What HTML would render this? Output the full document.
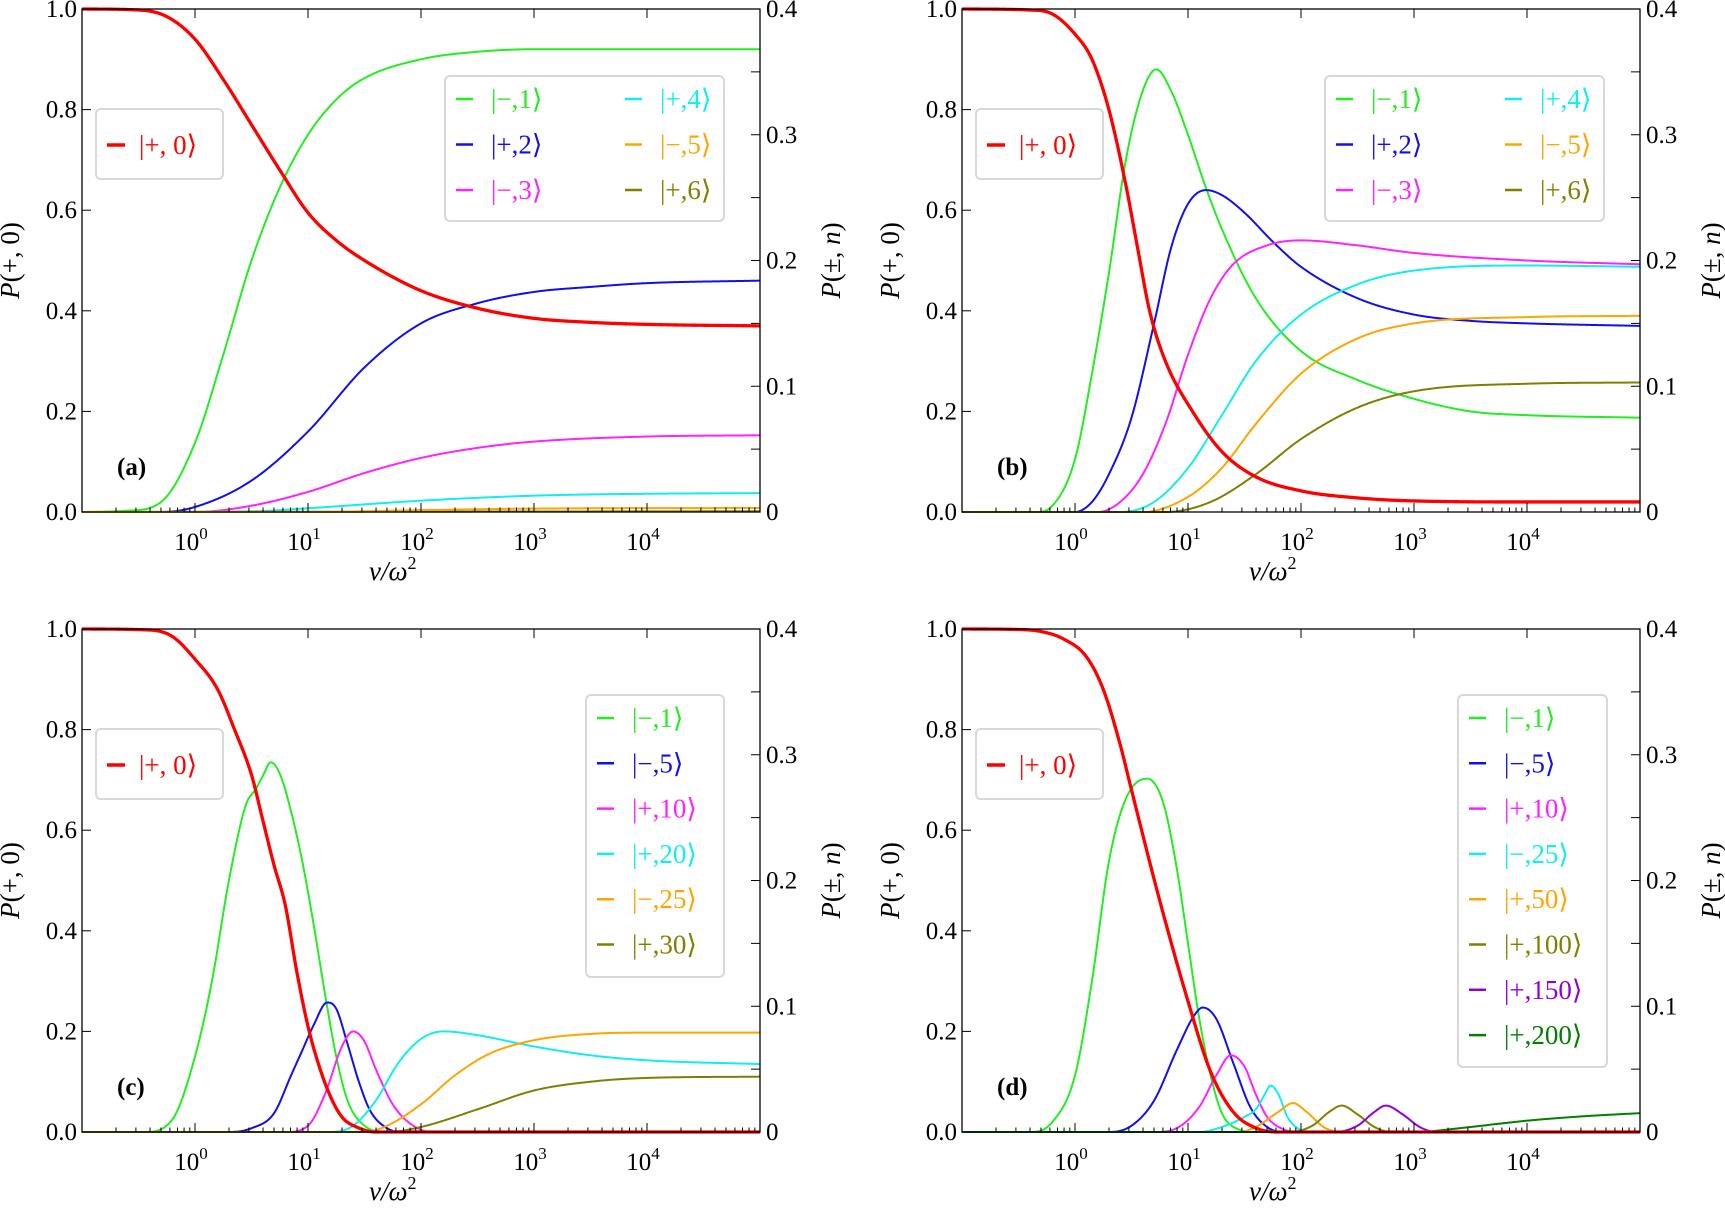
<!DOCTYPE html>
<html><head><meta charset="utf-8">
<style>
html,body{margin:0;padding:0;background:#fff;}
svg{display:block;}
text{font-family:"Liberation Serif","DejaVu Serif",serif;}
</style></head>
<body>
<svg id="s" width="1725" height="1208" xmlns="http://www.w3.org/2000/svg"></svg>
<script>
const S=document.getElementById('s');
let out='';
function mono(pts){
  const n=pts.length,xs=pts.map(p=>p[0]),ys=pts.map(p=>p[1]);
  const d=[],m=new Array(n).fill(0);
  for(let i=0;i<n-1;i++)d.push((ys[i+1]-ys[i])/(xs[i+1]-xs[i]));
  m[0]=d[0];m[n-1]=d[n-2];
  for(let i=1;i<n-1;i++){ if(d[i-1]*d[i]<=0)m[i]=0; else m[i]=(d[i-1]+d[i])/2;}
  for(let i=0;i<n-1;i++){ if(d[i]===0){m[i]=0;m[i+1]=0;continue;}
    const a=m[i]/d[i],b=m[i+1]/d[i],t=a*a+b*b; if(t>9){const k=3/Math.sqrt(t);m[i]=k*a*d[i];m[i+1]=k*b*d[i];}}
  return function(x){
    if(x<=xs[0])return ys[0]; if(x>=xs[n-1])return ys[n-1];
    let i=0;while(x>xs[i+1])i++;
    const h=xs[i+1]-xs[i],t=(x-xs[i])/h,t2=t*t,t3=t2*t;
    return (2*t3-3*t2+1)*ys[i]+(t3-2*t2+t)*h*m[i]+(-2*t3+3*t2)*ys[i+1]+(t3-t2)*h*m[i+1];
  };
}
const C={g:'#22ee22',b:'#1010ee',m:'#ff22ff',c:'#11eeee',o:'#ffa500',ol:'#808000',p:'#9400d3',dg:'#007f00',r:'#ff0000'};
function panel(L,T,R,B,lab,red,curves,leg,legBox,cols){
  const W=R-L,H=B-T;
  const X=u=>L+(u+1)/6*W, Y=v=>B-v*H;
  function draw(pts,col,sw,scale){
    const f=mono(pts);let d='';
    for(let k=0;k<=600;k++){const u=-1+6*k/600;let v=Math.max(0,f(u))*scale;d+=(k?'L':'M')+X(u).toFixed(2)+' '+Y(v).toFixed(2);}
    out+=`<path d="${d}" fill="none" stroke="${col}" stroke-width="${sw}" stroke-linejoin="round"/>`;
  }
  for(const c of curves)draw(c[1],C[c[0]],2,2.5);
  draw(red,C.r,3.3,1);
  out+=`<rect x="${L}" y="${T}" width="${W}" height="${H}" fill="none" stroke="#000" stroke-width="1.3"/>`;
  for(let e=-1;e<5;e++){
    for(let k=1;k<10;k++){const u=e+Math.log10(k);if(u<=-1||u>=5)continue;const x=X(u);
      const len=k==1?9:4.5;
      out+=`<line x1="${x}" y1="${B}" x2="${x}" y2="${B-len}" stroke="#000" stroke-width="1"/>`;
      if(k==1)out+=`<line x1="${x}" y1="${T}" x2="${x}" y2="${T+9}" stroke="#000" stroke-width="1"/>`;
    }
  }
  for(let e=0;e<5;e++){const x=X(e);
    out+=`<text x="${x-4}" y="${B+38}" font-size="25" text-anchor="middle">10<tspan font-size="17" dy="-11">${e}</tspan></text>`;}
  for(let i=0;i<=5;i++){const v=i*0.2,y=Y(v);
    out+=`<line x1="${L}" y1="${y}" x2="${L+9}" y2="${y}" stroke="#000"/>`;
    out+=`<text x="${L-5}" y="${y+8}" font-size="25" text-anchor="end">${v.toFixed(1)}</text>`;}
  for(let i=0;i<=8;i++){const y=Y(i/8);
    out+=`<line x1="${R}" y1="${y}" x2="${R-9}" y2="${y}" stroke="#000"/>`;
    if(i%2==0){const t=i==0?'0':(i/20).toFixed(1);
      out+=`<text x="${R+6}" y="${y+8}" font-size="25">${t}</text>`;}}
  const cy=(T+B)/2;
  out+=`<text transform="translate(${L-63},${cy}) rotate(-90)" font-size="27" text-anchor="middle"><tspan font-style="italic">P</tspan>(+, 0)</text>`;
  out+=`<text transform="translate(${R+80},${cy}) rotate(-90)" font-size="27" text-anchor="middle"><tspan font-style="italic">P</tspan>(±, <tspan font-style="italic">n</tspan>)</text>`;
  out+=`<text x="${X(1.75)}" y="${B+68}" font-size="27" text-anchor="middle" font-style="italic">v/ω<tspan font-size="18" dy="-11" font-style="normal">2</tspan></text>`;
  out+=`<text x="${L+35}" y="${B-37}" font-size="25" font-weight="bold">${lab}</text>`;
  out+=`<rect x="${L+14}" y="${T+100}" width="127" height="70" rx="5" fill="#fff" fill-opacity="0.85" stroke="#d8d8d8" stroke-width="2"/>`;
  out+=`<line x1="${L+25}" y1="${T+136}" x2="${L+43}" y2="${T+136}" stroke="${C.r}" stroke-width="3.5"/>`;
  out+=`<text x="${L+57}" y="${T+145}" font-size="27" fill="${C.r}">|+, 0⟩</text>`;
  const [bx,by,bw,bh]=legBox;
  out+=`<rect x="${bx}" y="${by}" width="${bw}" height="${bh}" rx="5" fill="#fff" fill-opacity="0.85" stroke="#d8d8d8" stroke-width="2"/>`;
  leg.forEach((e,i)=>{const col=cols?Math.floor(i/3):0,row=cols?i%3:i;
    const hx=bx+11+col*169, yy=by+23+row*(cols?45.5:45.3);
    out+=`<line x1="${hx}" y1="${yy}" x2="${hx+17}" y2="${yy}" stroke="${C[e[0]]}" stroke-width="2.5"/>`;
    out+=`<text x="${hx+35}" y="${yy+9}" font-size="27" fill="${C[e[0]]}">${e[1]}</text>`;});
}
panel(82,9,760,512,'(a)',
 [[-1,1],[-0.5,0.998],[-0.25,0.985],[0,0.94],[0.25,0.86],[0.5,0.77],[0.75,0.68],[1,0.595],[1.25,0.54],[1.5,0.5],[2,0.44],[2.5,0.405],[3,0.385],[3.5,0.377],[4,0.373],[5,0.37]],
 [['g',[[-1,0],[-0.6,0.001],[-0.3,0.008],[0,0.055],[0.25,0.125],[0.5,0.2],[0.75,0.258],[1,0.3],[1.25,0.328],[1.5,0.345],[2,0.36],[2.5,0.366],[3,0.368],[5,0.368]]],
  ['b',[[-1,0],[-0.3,0],[0,0.004],[0.5,0.025],[1,0.064],[1.5,0.115],[2,0.15],[2.5,0.166],[3,0.175],[3.5,0.179],[4,0.182],[5,0.184]]],
  ['m',[[-1,0],[0,0],[0.5,0.005],[1,0.016],[1.5,0.031],[2,0.043],[2.5,0.051],[3,0.056],[4,0.06],[5,0.061]]],
  ['c',[[-1,0],[0.5,0.0005],[1,0.003],[2,0.009],[3,0.013],[4,0.0145],[5,0.015]]],
  ['ol',[[-1,0],[2,0.0003],[5,0.0006]]],
  ['o',[[-1,0],[1,0],[2,0.0015],[3,0.0027],[5,0.0032]]]],
 [['g','|−,1⟩'],['b','|+,2⟩'],['m','|−,3⟩'],['c','|+,4⟩'],['o','|−,5⟩'],['ol','|+,6⟩']],[445,76,279,145],true);
panel(962,9,1640,512,'(b)',
 [[-1,1],[-0.4,0.998],[-0.2,0.99],[0,0.95],[0.15,0.9],[0.3,0.8],[0.45,0.65],[0.55,0.53],[0.66,0.4],[0.8,0.3],[1.04,0.2],[1.3,0.12],[1.6,0.07],[2,0.042],[2.5,0.028],[3,0.022],[4,0.02],[5,0.02]],
 [['g',[[-1,0],[-0.35,0],[-0.2,0.005],[0,0.042],[0.15,0.11],[0.3,0.19],[0.45,0.28],[0.6,0.335],[0.72,0.352],[0.85,0.335],[1,0.3],[1.15,0.26],[1.3,0.225],[1.6,0.17],[2,0.128],[2.5,0.105],[3,0.09],[3.5,0.08],[4,0.077],[5,0.075]]],
  ['b',[[-1,0],[0,0],[0.15,0.008],[0.3,0.03],[0.5,0.075],[0.7,0.15],[0.85,0.21],[1,0.245],[1.16,0.256],[1.3,0.252],[1.5,0.238],[1.75,0.215],[2,0.195],[2.5,0.17],[3,0.157],[3.5,0.152],[4,0.15],[5,0.148]]],
  ['m',[[-1,0],[0.2,0],[0.4,0.008],[0.6,0.03],[0.8,0.07],[1,0.125],[1.2,0.17],[1.4,0.197],[1.7,0.212],[2,0.216],[2.5,0.212],[3,0.206],[4,0.2],[5,0.197]]],
  ['c',[[-1,0],[0.4,0],[0.7,0.008],[1,0.035],[1.3,0.077],[1.6,0.12],[2,0.157],[2.5,0.181],[3,0.192],[4,0.196],[5,0.195]]],
  ['o',[[-1,0],[0.6,0],[1,0.012],[1.3,0.035],[1.6,0.07],[2,0.11],[2.5,0.138],[3,0.15],[4,0.155],[5,0.156]]],
  ['ol',[[-1,0],[0.8,0],[1.2,0.008],[1.6,0.03],[2,0.058],[2.5,0.083],[3,0.096],[4,0.102],[5,0.103]]]],
 [['g','|−,1⟩'],['b','|+,2⟩'],['m','|−,3⟩'],['c','|+,4⟩'],['o','|−,5⟩'],['ol','|+,6⟩']],[1325,76,279,145],true);
panel(82,629,760,1132,'(c)',
 [[-1,1],[-0.4,0.998],[-0.2,0.985],[0,0.94],[0.2,0.88],[0.35,0.8],[0.5,0.71],[0.6,0.62],[0.7,0.53],[0.8,0.45],[0.9,0.32],[1,0.21],[1.1,0.13],[1.2,0.07],[1.3,0.03],[1.45,0.008],[1.6,0],[5,0]],
 [['g',[[-1,0],[-0.45,0],[-0.2,0.01],[0,0.06],[0.15,0.12],[0.3,0.2],[0.45,0.26],[0.54,0.273],[0.6,0.283],[0.67,0.294],[0.75,0.285],[0.85,0.255],[0.95,0.215],[1.05,0.165],[1.15,0.11],[1.25,0.06],[1.35,0.025],[1.5,0.005],[1.7,0],[5,0]]],
  ['b',[[-1,0],[0.3,0],[0.5,0.003],[0.7,0.015],[0.85,0.045],[0.95,0.065],[1.05,0.085],[1.17,0.103],[1.25,0.098],[1.35,0.07],[1.45,0.04],[1.55,0.017],[1.7,0.003],[1.85,0],[5,0]]],
  ['m',[[-1,0],[0.8,0],[1,0.005],[1.15,0.03],[1.3,0.068],[1.4,0.08],[1.5,0.072],[1.6,0.05],[1.75,0.022],[1.9,0.007],[2.1,0],[5,0]]],
  ['c',[[-1,0],[1.2,0],[1.4,0.005],[1.6,0.025],[1.8,0.055],[2,0.074],[2.2,0.08],[2.5,0.077],[3,0.068],[3.5,0.061],[4,0.057],[5,0.054]]],
  ['o',[[-1,0],[1.5,0],[1.7,0.005],[2,0.022],[2.3,0.045],[2.6,0.062],[3,0.073],[3.5,0.078],[4,0.079],[5,0.079]]],
  ['ol',[[-1,0],[1.7,0],[2,0.004],[2.5,0.018],[3,0.033],[3.5,0.04],[4,0.043],[5,0.044]]]],
 [['g','|−,1⟩'],['b','|−,5⟩'],['m','|+,10⟩'],['c','|+,20⟩'],['o','|−,25⟩'],['ol','|+,30⟩']],[586,695,138,282],false);
panel(962,629,1640,1132,'(d)',
 [[-1,1],[-0.5,0.999],[-0.3,0.995],[-0.1,0.98],[0.1,0.945],[0.25,0.88],[0.4,0.77],[0.5,0.68],[0.75,0.46],[1,0.26],[1.2,0.12],[1.4,0.04],[1.6,0.008],[1.8,0],[5,0]],
 [['g',[[-1,0],[-0.4,0],[-0.2,0.008],[0,0.045],[0.15,0.12],[0.3,0.215],[0.45,0.265],[0.64,0.281],[0.78,0.262],[0.9,0.21],[1,0.15],[1.1,0.09],[1.2,0.045],[1.3,0.015],[1.45,0.002],[1.6,0],[5,0]]],
  ['b',[[-1,0],[0.3,0],[0.5,0.005],[0.7,0.025],[0.9,0.065],[1.05,0.092],[1.13,0.099],[1.25,0.09],[1.4,0.055],[1.55,0.02],[1.7,0.004],[1.85,0],[5,0]]],
  ['m',[[-1,0],[0.7,0],[0.9,0.003],[1.1,0.02],[1.25,0.045],[1.38,0.061],[1.5,0.052],[1.6,0.03],[1.7,0.012],[1.85,0.002],[2,0],[5,0]]],
  ['c',[[-1,0],[1.1,0],[1.3,0.004],[1.5,0.012],[1.6,0.018],[1.68,0.03],[1.73,0.037],[1.8,0.03],[1.88,0.012],[1.97,0.003],[2.1,0],[5,0]]],
  ['o',[[-1,0],[1.45,0],[1.6,0.004],[1.8,0.016],[1.93,0.023],[2.05,0.016],[2.2,0.004],[2.35,0],[5,0]]],
  ['ol',[[-1,0],[1.9,0],[2.1,0.005],[2.25,0.016],[2.36,0.021],[2.5,0.014],[2.65,0.004],[2.8,0],[5,0]]],
  ['p',[[-1,0],[2.3,0],[2.5,0.005],[2.65,0.016],[2.75,0.021],[2.9,0.014],[3.05,0.004],[3.2,0],[5,0]]],
  ['dg',[[-1,0],[3.05,0],[3.3,0.002],[3.6,0.005],[4,0.009],[4.5,0.0125],[5,0.015]]]],
 [['g','|−,1⟩'],['b','|−,5⟩'],['m','|+,10⟩'],['c','|−,25⟩'],['o','|+,50⟩'],['ol','|+,100⟩'],['p','|+,150⟩'],['dg','|+,200⟩']],[1458,695,149,372],false);
S.innerHTML=out;
</script>
</body></html>
